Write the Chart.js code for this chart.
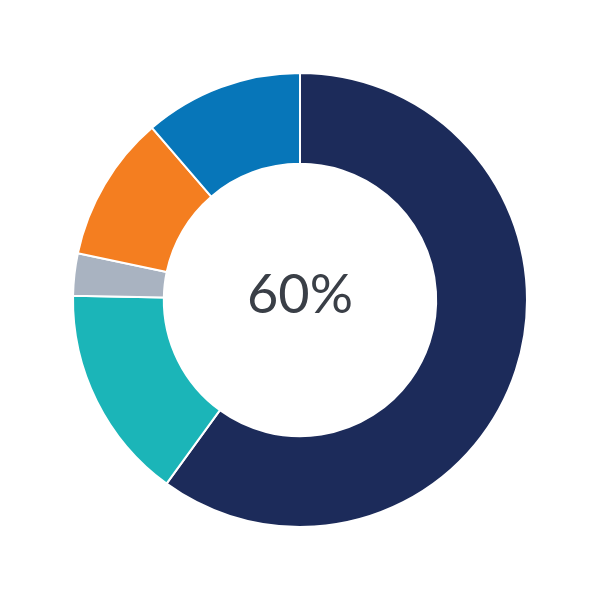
<!DOCTYPE html>
<html>
<head>
<meta charset="utf-8">
<script src="https://cdn.jsdelivr.net/npm/chart.js@4"></script>
<style>
  html, body { margin: 0; padding: 0; background: #fff; }
  #wrap { width: 600px; height: 600px; }
</style>
</head>
<body>
<div id="wrap"><canvas id="shareChart"></canvas></div>
<script>
const labels = ["Navy", "Teal", "Gray", "Orange", "Blue"];
const values = [60, 15.3, 3, 10.4, 11.3];
const colors = ["#1c2b5a", "#1bb5b8", "#a9b3c1", "#f47e20", "#0776b9"];
const centerLabel = "60%";

// Center text
const centerText = {
  id: "centerText",
  afterDraw(chart) {
    const meta = chart.getDatasetMeta(0).data[0];
    if (!meta) return;
    const ctx = chart.ctx;
    ctx.save();
    ctx.font = "400 54px Lato, 'Open Sans', sans-serif";
    ctx.fillStyle = "#3a3f47";
    ctx.textAlign = "center";
    ctx.textBaseline = "middle";
    ctx.fillText(centerLabel, meta.x, meta.y - 4);
    ctx.restore();
  },
};

const shareCtx = document.getElementById("shareChart").getContext("2d");
const shareChart = new Chart(shareCtx, {
  type: "doughnut",
  data: {
    labels: labels,
    datasets: [
      {
        data: values,
        backgroundColor: colors,
        borderColor: "#fff",
        borderWidth: 2,
      },
    ],
  },
  options: {
    responsive: true,
    maintainAspectRatio: false,
    animation: false,
    cutout: "60%",
    layout: { padding: 72 },
    plugins: {
      legend: { display: false },
      tooltip: { enabled: false },
    },
  },
  plugins: [centerText],
});
</script>
</body>
</html>
